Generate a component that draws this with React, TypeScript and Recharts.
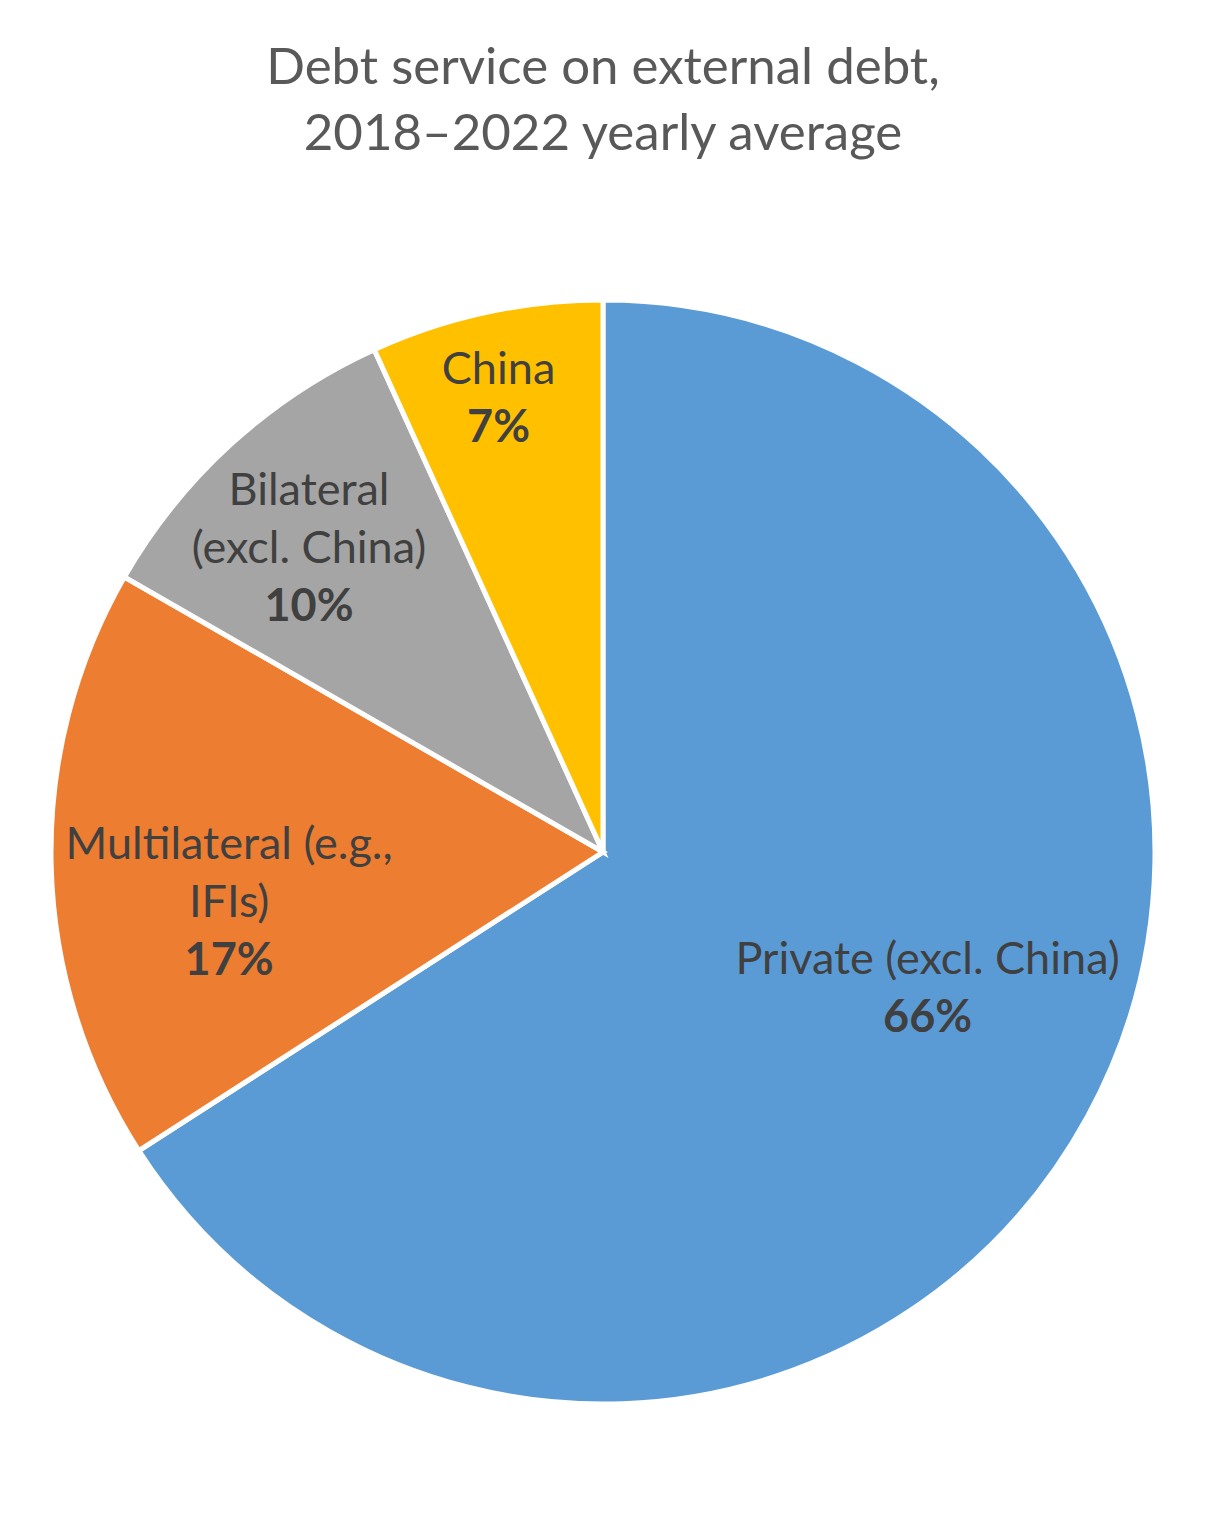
import React from "react";
import { PieChart, Pie, Cell } from "recharts";

// debt service by creditor, share of total (%)
const categories = ["Private (excl. China)", "Multilateral (e.g., IFIs)", "Bilateral (excl. China)", "China"];
const shares = [65.9, 17.4, 9.9, 6.8];
const labelLines = [
  ["Private (excl. China)"],
  ["Multilateral (e.g.,", "IFIs)"],
  ["Bilateral", "(excl. China)"],
  ["China"],
];
const colors = ["#5B9BD5", "#ED7D31", "#A5A5A5", "#FFC000"];
const titleLines = ["Debt service on external debt,", "2018\u20132022 yearly average"];

// where Excel's "best fit" put each label: fraction of radius, degrees off the mid angle
const labelFit = [
  { r: 0.637, d: 6 },
  { r: 0.683, d: 6 },
  { r: 0.768, d: 1.6 },
  { r: 0.845, d: 0.7 },
];

const W = 1206;
const H = 1536;
const FONT = "Lato, 'Open Sans', sans-serif";
const RAD = Math.PI / 180;

const data = categories.map((name, i) => ({ name, value: shares[i] }));

const renderLabel = (props: any) => {
  const { cx, cy, midAngle, outerRadius, index, percent } = props;
  const fit = labelFit[index];
  const a = (midAngle + fit.d) * RAD;
  const x = cx + Math.cos(-a) * outerRadius * fit.r;
  const y = cy + Math.sin(-a) * outerRadius * fit.r;
  const lines = [...labelLines[index], `${Math.round(percent * 100)}%`];
  const step = 58;
  return (
    <g>
      {lines.map((ln, i) => (
        <text
          key={i}
          x={x}
          y={y + (i - (lines.length - 1) / 2) * step + 16}
          textAnchor="middle"
          fill="#404040"
          fontFamily={FONT}
          fontSize={45}
          fontWeight={i === lines.length - 1 ? 700 : 400}
        >
          {ln}
        </text>
      ))}
    </g>
  );
};

export default function App() {
  return (
    <div style={{ position: "relative", width: W, height: H, background: "#ffffff" }}>
      <style>{"body{margin:0}"}</style>
      <svg width={W} height={200} style={{ position: "absolute", left: 0, top: 0 }}>
        {titleLines.map((t, i) => (
          <text
            key={i}
            x={603}
            y={84 + i * 66}
            textAnchor="middle"
            fill="#595959"
            fontFamily={FONT}
            fontSize={51}
          >
            {t}
          </text>
        ))}
      </svg>
      <div style={{ position: "absolute", left: 0, top: 0 }}>
        <PieChart width={W} height={H} margin={{ top: 0, right: 0, bottom: 0, left: 0 }}>
          <Pie
            data={data}
            dataKey="value"
            nameKey="name"
            cx={603}
            cy={852}
            outerRadius={552}
            startAngle={90}
            endAngle={-270}
            stroke="#ffffff"
            strokeWidth={5}
            label={renderLabel}
            labelLine={false}
            isAnimationActive={false}
          >
            {data.map((d, i) => (
              <Cell key={d.name} fill={colors[i]} />
            ))}
          </Pie>
        </PieChart>
      </div>
    </div>
  );
}
